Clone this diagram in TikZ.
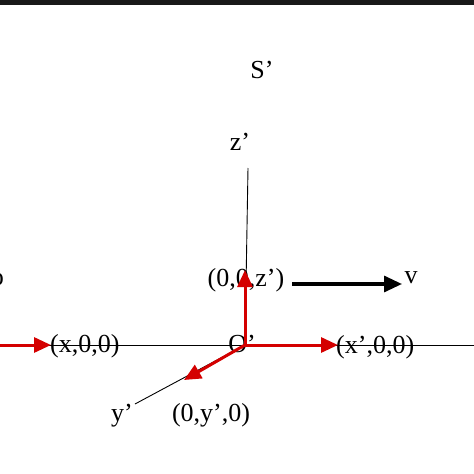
\documentclass[tikz,border=0pt]{standalone}
\usepackage{fontspec}
\setmainfont{Liberation Serif}
\usetikzlibrary{arrows.meta}
\definecolor{arrred}{HTML}{D40000}
\tikzset{
  lbl/.style={inner sep=0pt, font=\fontsize{26}{30}\selectfont},
  axis/.style={line width=0.9pt, black},
  redarrow/.style={line width=3pt, arrred, -{Triangle[length=17pt,width=15pt]}},
  blkarrow/.style={line width=3.2pt, black, -{Triangle[length=18pt,width=16pt]}},
}
\begin{document}
\begin{tikzpicture}[x=1pt,y=-1pt]
\useasboundingbox (0,0) rectangle (474,474);
\fill[black!90] (0,0) rectangle (474,5);
% coordinates
\coordinate (O) at (245,345);
\coordinate (zt) at (248,168);
\coordinate (xl) at (0,345);
\coordinate (xr) at (474,345);
\coordinate (yl) at (135,404);
% axes
\draw[axis] (xl) -- (xr);
\draw[axis] (O) -- (zt);
\draw[axis] (O) -- (yl);
% labels
\node[lbl] (S) at (262,70) {S’};
\node[lbl] (zp) at (240,142) {z’};
\node[lbl] (zpt) at (246,280) {(0,0,z’)};
\node[lbl] (v) at (411,278) {v};
\node[lbl, anchor=west] (xpt) at (50,346) {(x,0,0)};
\node[lbl] (Op) at (242,344) {O’};
\node[lbl, anchor=west] (xppt) at (336,347) {(x’,0,0)};
\node[lbl] (yp) at (122,416) {y’};
\node[lbl] (yppt) at (211,415) {(0,y’,0)};
\node[lbl, anchor=east] (frag) at (4,279) {o};
% red arrows
\coordinate (zr) at (245,270);
\coordinate (xr1) at (0,345);
\coordinate (xr2) at (51,345);
\coordinate (xpr) at (338,345);
\coordinate (yr) at (184,380);
\draw[redarrow] (O) -- (zr);
\draw[redarrow] (xr1) -- (xr2);
\draw[redarrow] (O) -- (xpr);
\draw[redarrow] (O) -- (yr);
% velocity arrow
\coordinate (v1) at (292,284);
\coordinate (v2) at (402,284);
\draw[blkarrow] (v1) -- (v2);
\end{tikzpicture}
\end{document}
